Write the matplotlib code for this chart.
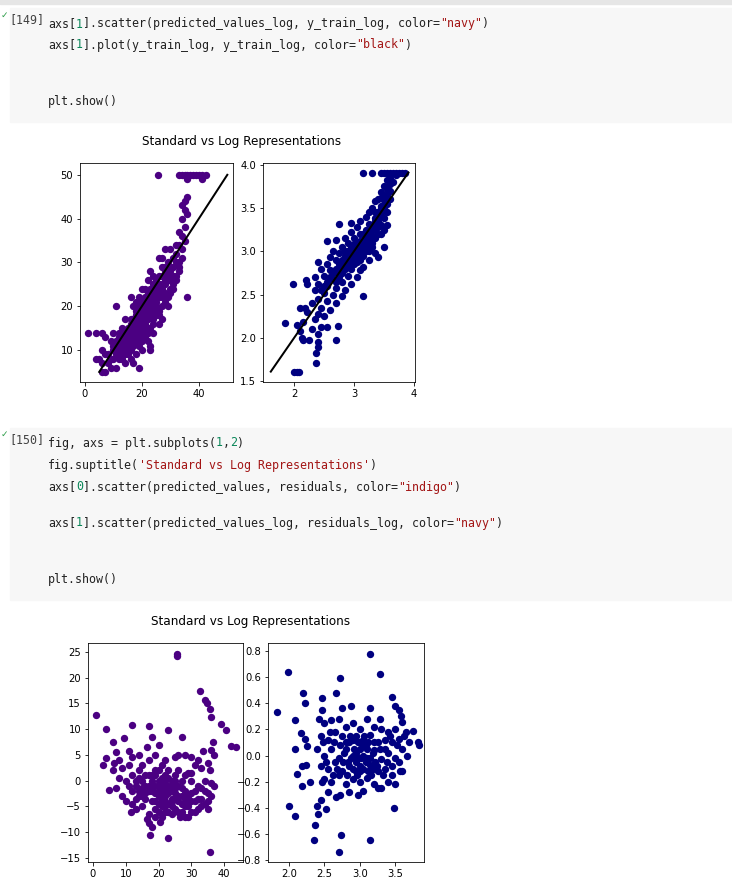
import matplotlib
matplotlib.use("Agg")
import matplotlib.pyplot as plt
from matplotlib.patches import Rectangle
import numpy as np

W, H = 732, 890
S = 0.72  # original rendered at 72 dpi

# ---------------- data ----------------
p1 = [(25.5,50),(33,50),(34,50),(35,50),(36,50),(37,50),(38,50),(39,50),(40,50),(41,50),(42.5,50),(36,49),(41,49),
(36,45),(35,44),(34,43),(35,42),(36,41),(34,40),(33,37),(34,36),(35,35),(32,34),(30,33),(32,32),(34,31),(28,33),(27,31),
(26,31),(29,30),(31,29),(33,29),(23,28),(28,28),(30,28),(32,27),(26,27),(22,26),(24,25),(29,26),(31,25),(27,25),(25,24),
(20,24),(21,24),(23,24),(26,22),(28,23),(30,23),(36,22),(24,23),(22,22),(19,22),(16,22),(17,20),(18,21),(20,21),(21,20),
(23,21),(25,21),(27,22),(19,19),(22,19),(24,19),(26,19),(29,20),(18,18),(20,18),(23,18),(25,18),(27,17),(11,20),(14,17),
(16,17),(17,16),(19,16),(21,16),(22,17),(24,16),(26,16),(13,15),(15,15),(17,15),(19,15),(20,14),(22,14),(24,14),(14,13),
(16,13),(18,13),(20,12),(23,11),(10,14),(12,14),(11,12),(13,12),(15,12),(17,11),(19,11),(1,14),(4,14),(6,14),(7,13),(9,12),
(10,11),(12,11),(14,10),(16,10),(18,9),(20,10),(23,10),(6,10),(8,9),(10,8),(12,8),(14,7),(16,8),(17,7),(19,6),(11,6),(4,8),
(5,8),(6,7),(8,7),(9,6),(6,5),(7,5),(15,14),(18,16),(21,18),(20,16),(17,13),(15,10),(13,9),(22,20),(25,20),(28,25),(30,26),
(33,30),(31,31),(29,27),(18,14),(21,15),(16,12),(14,11),(12,10),(19,13),(23,15),
(16,14),(17,14),(18,15),(19,17),(20,17),(21,17),(22,18),(23,19),(24,20),(25,22),(26,23),(27,24),(28,26),(29,28),(30,29),
(31,27),(32,30),(15,13),(16,15),(17,17),(18,19),(19,20),(20,19),(21,21),(22,21),(23,22),(24,21),(25,23),(26,25),(27,27),
(28,29),(14,12),(15,11),(13,11),(12,12),(11,10),(13,13),(14,14),(16,16),(18,17),(20,15),(21,13),(22,15),(19,14),(17,12),
(15,9),(13,8),(11,9),(9,8),(7,9),(10,10),(12,13),(24,17),(26,18),(27,20),(28,21),(29,22),(30,24),(31,24),(32,26),(33,28),
(34,33),(35,38),(33,34),(27,29),(25,26),(24,27),(22,23),(21,22),(20,20),(19,18),(18,12),(16,11),(14,9),(22,12),(20,13)]
pred_std = [a for a, b in p1]
y_std = [b for a, b in p1]
line_std = [5, 50]

p2 = [(3.15,3.91),(3.3,3.91),(3.45,3.91),(3.5,3.91),(3.55,3.91),(3.6,3.91),(3.65,3.91),(3.7,3.91),(3.75,3.91),(3.8,3.91),(3.85,3.91),
(3.6,3.85),(3.55,3.82),(3.6,3.78),(3.5,3.75),(3.55,3.72),(3.45,3.68),(3.55,3.65),(3.4,3.6),(3.35,3.58),(3.5,3.55),(3.45,3.52),
(3.3,3.5),(3.25,3.45),(3.4,3.45),(3.55,3.45),(3.2,3.4),(3.35,3.38),(3.5,3.38),(3.1,3.35),(2.95,3.33),(2.75,3.31),(3.25,3.32),
(3.45,3.3),(3.05,3.28),(3.2,3.25),(3.35,3.25),(2.95,3.22),(3.1,3.2),(3.3,3.18),(2.85,3.15),(3.0,3.15),(3.2,3.12),(2.7,3.13),
(2.55,3.12),(2.9,3.1),(3.05,3.08),(3.25,3.05),(3.5,3.05),(2.8,3.05),(2.95,3.02),(3.15,3.0),(3.35,2.98),(2.65,3.0),(2.75,2.98),
(2.9,2.95),(3.05,2.95),(3.25,2.9),(3.4,2.93),(2.6,2.93),(2.7,2.9),(2.85,2.88),(3.0,2.85),(3.15,2.82),(2.55,2.85),(2.8,2.82),
(2.95,2.8),(3.1,2.78),(2.4,2.88),(2.45,2.8),(2.6,2.78),(2.75,2.75),(2.9,2.72),(3.05,2.7),(2.35,2.7),(2.5,2.72),(2.65,2.68),
(2.8,2.65),(2.95,2.62),(2.2,2.67),(2.22,2.62),(1.98,2.62),(2.4,2.62),(2.55,2.6),(2.7,2.58),(2.85,2.55),(2.35,2.55),(2.5,2.52),
(2.65,2.5),(2.8,2.48),(3.15,2.48),(2.4,2.45),(2.55,2.42),(2.7,2.4),(2.3,2.4),(2.45,2.35),(2.6,2.32),(2.1,2.34),(2.18,2.35),
(2.22,2.3),(2.4,2.28),(2.5,2.25),(2.35,2.22),(2.05,2.15),(2.15,2.18),(2.3,2.1),(2.45,2.12),(2.55,2.12),(2.73,2.14),(1.85,2.17),
(2.1,2.08),(2.4,2.05),(2.15,1.98),(2.25,1.97),(2.4,1.95),(2.7,1.97),(2.13,2.0),(2.4,1.9),(2.37,1.83),(2.37,1.71),(2.0,1.61),
(2.05,1.61),(2.08,1.61),(3.0,3.0),(3.1,3.05),(3.2,3.15),(3.3,3.3),(3.4,3.4),(2.9,2.9),(3.0,2.92),(3.1,2.9),(3.2,3.0),(3.3,3.1),
(3.4,3.2),(3.5,3.5),(3.6,3.6),(2.85,3.0),(3.05,3.1),(3.15,3.2),(3.25,3.22),(3.35,3.35),
(2.8,2.9),(2.85,2.95),(2.9,3.0),(2.95,3.05),(3.0,3.08),(3.05,3.02),(3.1,3.12),(3.15,3.1),(3.2,3.2),(3.25,3.15),(3.3,3.25),
(3.35,3.3),(3.4,3.35),(3.45,3.42),(3.5,3.48),(3.55,3.55),(3.6,3.7),(3.65,3.8),(3.7,3.88),(3.45,3.62),(3.5,3.65),(2.75,2.85),
(2.7,2.8),(2.65,2.75),(2.6,2.7),(2.55,2.65),(2.5,2.6),(2.45,2.55),(2.95,2.9),(3.0,2.95),(3.1,3.0),(3.15,3.05),(3.2,3.08),
(3.25,3.12),(3.3,3.05),(3.35,3.15),(3.4,3.28),(2.9,2.85),(2.85,2.8),(2.8,2.75),(2.75,2.7),(2.7,2.65),(3.05,2.88),(3.15,2.95),
(3.25,3.0),(3.45,3.2),(3.5,3.25),(3.55,3.3),(3.35,3.45),(3.45,3.5),(3.52,3.6),(3.58,3.7)]
pred_log = [a for a, b in p2]
y_log = [b for a, b in p2]
line_log = [1.61, 3.91]

p3 = [(25.5,24.5),(25.7,24.2),(32.5,17.3),(34,15.7),(34.8,15),(35.5,13.8),(1,12.8),(36,12.3),(39,11),(40.5,9.8),(12,10.7),
(17,10.5),(23,9.8),(4,10),(9.5,8.2),(18,8.5),(27,8.5),(6,7.5),(20,7),(36.5,7.5),(42,6.8),(43.5,6.5),(36,6),(33.5,5.7),(11,5.8),
(16.5,6.5),(37,5),(4,4.3),(8,4),(6.5,3.5),(12,4.5),(14,5),(28,5),(30,4.5),(32,4),(35,3.5),(19,5),(22,4),(25,4.5),(3,3),(6,2),
(9,2.5),(10,0),(7,-1.5),(5,-1.8),(9,-3),(8,0.5),(12,1),(14,2),(16,1),(18,0),(20,2),(22,1),(24,0),(26,2),(28,1),(30,0),(32,-1),
(34,0),(36,-0.5),(35.5,2),(31,3),(13,-1),(15,-1.5),(17,-2),(19,-1),(21,-2),(23,-1),(25,-2.5),(27,-1.5),(29,-3),(31,-2),
(33,-1.5),(35,-2.5),(37,-1),(14,-3),(16,-3.5),(18,-4),(20,-3),(22,-4),(24,-3.5),(26,-4),(28,-5),(30,-4),(32,-3.5),(34,-4.5),
(36,-3),(10,-4),(12,-4.5),(15,-5),(17,-6.5),(19,-5.5),(21,-5),(23,-6),(25,-5.5),(27,-6),(29,-7),(31,-6),(33,-5),(35,-5.5),
(11.5,-6),(16.5,-7.5),(18,-9),(20.5,-8),(17,-8.3),(26.5,-7),(28,-7),(17.5,-10.5),(23,-11.2),(35.5,-13.8),(13,-3.5),(20,-1),
(24,-2),(22,-3),(21,-1),(15,0),(17,1),(19,2),(21,3),(23,2),(25,1),(27,0),(29,1.5),(16,-1),(18,-2),(20,-4.5),(22,-6),(24,-5),
(26,-3),(28,-2),(30,-2.5),(14,0.5),(19,-7),(21,-7),(13,-5.5),(33,2.5),(11,3),(7,5.5),(30,1.5),(26,5),(15,3),(17,4),
(18,-1),(19,-2.5),(20,0),(21,-3.5),(22,-1.5),(23,-2.5),(24,-1),(25,-3.5),(26,-1),(27,-3),(28,-4),(19,1),(20,-2),(21,0.5),
(22,-0.5),(23,-4.5),(24,-4),(25,0),(18,1),(17,-1),(16,-2.5),(15,-3),(14,-2),(13,0),(12,-2),(11,-1),(20,-6),(22,-5),(24,-6.5),
(26,-6),(21,-4),(19,-4),(23,0.5),(25,-1.5),(27,-4.5),(29,-5),(30,-6),(32,-5.5),(34,-2),(33,-3.5),(31,-4),(35,-4)]
pred_std2 = [a for a, b in p3]
resid_std = [b for a, b in p3]

p4 = [(3.15,0.78),(1.99,0.64),(3.28,0.62),(2.72,0.59),(2.2,0.48),(2.67,0.48),(3.45,0.45),(2.46,0.44),(2.22,0.4),(2.88,0.38),
(3.15,0.36),(3.5,0.38),(3.55,0.35),(1.83,0.33),(2.47,0.35),(2.75,0.36),(2.08,0.27),(2.42,0.28),(3.58,0.3),(3.6,0.26),(3.28,0.28),
(3.75,0.19),(3.82,0.1),(3.84,0.08),(2.17,0.17),(2.22,0.13),(2.25,0.07),(2.09,0.05),(2.19,-0.08),(2.24,-0.07),(2.12,-0.14),
(2.19,-0.23),(2.3,-0.2),(2.0,-0.39),(2.09,-0.46),(2.4,-0.39),(2.41,-0.45),(2.45,-0.34),(2.52,-0.41),(2.37,-0.53),(2.36,-0.65),
(2.73,-0.61),(2.7,-0.74),(3.14,-0.65),(3.48,-0.4),
(2.5,0.25),(2.6,0.27),(2.7,0.28),(2.8,0.22),(2.9,0.25),(3.0,0.2),(3.1,0.28),(3.2,0.22),(3.3,0.2),(3.4,0.18),(3.5,0.2),(3.65,0.18),
(2.45,0.15),(2.55,0.12),(2.65,0.18),(2.75,0.15),(2.85,0.1),(2.95,0.15),(3.05,0.12),(3.15,0.16),(3.25,0.1),(3.35,0.12),(3.45,0.1),
(3.55,0.13),(3.7,0.1),(3.6,0.05),(2.4,0.05),(2.5,0.0),(2.6,0.05),(2.7,-0.02),(2.8,0.05),(2.9,0.0),(3.0,0.05),(3.1,-0.02),
(3.2,0.04),(3.3,-0.03),(3.4,0.02),(3.5,-0.02),(2.45,-0.08),(2.55,-0.1),(2.65,-0.05),(2.75,-0.12),(2.85,-0.08),(2.95,-0.05),
(3.05,-0.1),(3.15,-0.07),(3.25,-0.12),(3.35,-0.1),(3.45,-0.08),(3.55,-0.05),(2.5,-0.18),(2.6,-0.2),(2.7,-0.15),(2.8,-0.22),
(2.9,-0.18),(3.0,-0.2),(3.1,-0.17),(3.2,-0.22),(3.3,-0.25),(3.4,-0.2),(3.5,-0.22),(3.6,-0.12),(2.55,-0.28),(2.67,-0.32),
(2.72,-0.3),(2.85,-0.28),(2.97,-0.3),(3.05,-0.27),(3.25,-0.25),(2.47,-0.2),(2.9,0.12),(3.0,-0.08),(3.08,0.08),(3.12,-0.12),
(2.98,0.1),(3.02,-0.02),(2.95,-0.12),(3.18,0.02),(2.88,-0.02),(3.22,-0.05),(2.78,0.02),(2.82,-0.15),
(2.92,0.05),(2.96,-0.15),(3.0,0.1),(3.04,0.0),(3.06,0.15),(3.1,0.05),(3.14,-0.02),(3.16,-0.15),(3.2,0.1),(3.24,-0.08),
(3.28,0.05),(3.32,-0.15),(3.36,0.05),(3.38,-0.05),(2.86,0.15),(2.84,-0.05),(2.8,0.1),(2.76,-0.05),(2.72,0.08),(2.68,-0.1),
(2.64,0.1),(2.62,-0.15),(2.58,0.18),(2.52,-0.05),(2.48,0.1),(3.42,0.15),(3.46,-0.15),(3.52,0.08),(3.56,-0.12),(3.62,0.15),
(3.66,0.0),(3.0,-0.12),(3.08,-0.05),(2.94,0.02),(3.12,0.1),(2.9,-0.1),(3.18,-0.1),(2.98,-0.02),(3.04,0.08)]
pred_log2 = [a for a, b in p4]
resid_log = [b for a, b in p4]

# ---------------- figure ----------------
fig = plt.figure(figsize=(W/100, H/100), dpi=100)
fig.patch.set_facecolor("white")

def fx(x): return x / W
def fy(y): return 1 - y / H

def add_ax(x0, y0, x1, y1):
    ax = fig.add_axes([fx(x0), fy(y1), fx(x1) - fx(x0), fy(y0) - fy(y1)])
    for s in ax.spines.values():
        s.set_linewidth(0.8 * S)
    ax.tick_params(labelsize=10 * S, width=0.8 * S, length=3.5 * S, pad=3.5 * S)
    return ax

fig.patches.append(Rectangle((0, fy(4)), 1, fy(0) - fy(4), transform=fig.transFigure, color="#e6e6e6", zorder=0))

def cell(y0, y1):
    fig.patches.append(Rectangle((fx(10), fy(y1)), fx(732) - fx(10), fy(y0) - fy(y1),
                                 transform=fig.transFigure, color="#f7f7f7", zorder=0))

cell(8, 122)
cell(428, 600)

CW = 7.0
MONO = dict(family="DejaVu Sans Mono", fontsize=8.4, va="center")
def code(y, segs, x0=48):
    i = 0
    for txt, col in segs:
        fig.text(fx(x0 + CW * i), fy(y), txt, color=col, **MONO)
        i += len(txt)

K = "#212121"; G = "#098658"; R = "#a31515"
fig.text(fx(9), fy(20), "[149]", color="#424242", fontsize=8.4, va="center", family="DejaVu Sans Mono")
fig.text(fx(1), fy(15), "✓", color="#2e9e4a", fontsize=6.5, va="center")
code(24, [("axs[", K), ("1", G), ("].scatter(predicted_values_log, y_train_log, color=", K), ('"navy"', R), (")", K)])
code(45, [("axs[", K), ("1", G), ("].plot(y_train_log, y_train_log, color=", K), ('"black"', R), (")", K)])
code(101, [("plt.show()", K)])

fig.text(fx(9), fy(440), "[150]", color="#424242", fontsize=8.4, va="center", family="DejaVu Sans Mono")
fig.text(fx(1), fy(434), "✓", color="#2e9e4a", fontsize=6.5, va="center")
code(443, [("fig, axs = plt.subplots(", K), ("1", G), (",", K), ("2", G), (")", K)])
code(465, [("fig.suptitle(", K), ("'Standard vs Log Representations'", R), (")", K)])
code(487, [("axs[", K), ("0", G), ("].scatter(predicted_values, residuals, color=", K), ('"indigo"', R), (")", K)])
code(523, [("axs[", K), ("1", G), ("].scatter(predicted_values_log, residuals_log, color=", K), ('"navy"', R), (")", K)])
code(580, [("plt.show()", K)])

ms = 28
fig.text(fx(242), fy(142), "Standard vs Log Representations", ha="center", va="center", fontsize=12 * S)
a1 = add_ax(80, 163, 233, 382)
a1.scatter(pred_std, y_std, color="indigo", s=ms, linewidths=0)
a1.plot(line_std, line_std, color="black", lw=2.0 * S)
a1.set_xlim(-1.75, 52); a1.set_ylim(2.7, 52.7)
a1.set_xticks([0, 20, 40]); a1.set_yticks([10, 20, 30, 40, 50])

a2 = add_ax(263, 163, 415, 382)
a2.scatter(pred_log, y_log, color="navy", s=ms, linewidths=0)
a2.plot(line_log, line_log, color="black", lw=2.0 * S)
a2.set_xlim(1.48, 4.02); a2.set_ylim(1.49, 4.02)
a2.set_xticks([2, 3, 4]); a2.set_yticks([1.5, 2.0, 2.5, 3.0, 3.5, 4.0])

fig.text(fx(251), fy(621), "Standard vs Log Representations", ha="center", va="center", fontsize=12 * S)
a3 = add_ax(88, 643, 243, 862)
a3.scatter(pred_std2, resid_std, color="indigo", s=ms, linewidths=0)
a3.set_xlim(-1.5, 45.7); a3.set_ylim(-15.8, 26.7)
a3.set_xticks([0, 10, 20, 30, 40]); a3.set_yticks([-15, -10, -5, 0, 5, 10, 15, 20, 25])

a4 = add_ax(268, 643, 424, 862)
a4.scatter(pred_log2, resid_log, color="navy", s=ms, linewidths=0)
a4.set_xlim(1.705, 3.905); a4.set_ylim(-0.815, 0.861)
a4.set_xticks([2.0, 2.5, 3.0, 3.5]); a4.set_yticks(np.round(np.arange(-0.8, 0.81, 0.2), 1))

fig.savefig("out.png", dpi=100)
